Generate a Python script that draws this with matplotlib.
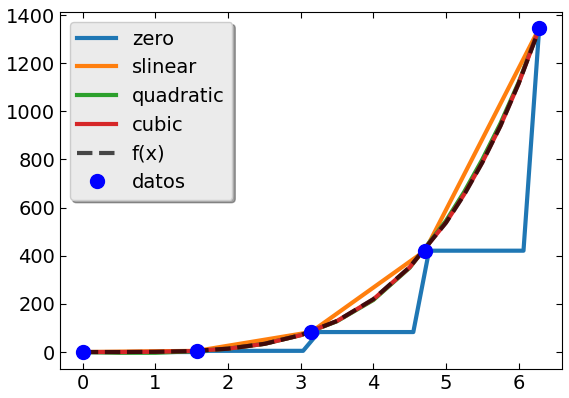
import matplotlib
matplotlib.use('Agg')
from matplotlib import pyplot as plt

# puntos de datos
x_datos = [0.0, 1.571, 3.142, 4.712, 6.283]
y_datos = [0, 5, 83, 421, 1345]

# interpolacion de orden cero (vertices)
x_zero = [0.0, 1.517, 1.733, 3.033, 3.250, 4.550, 4.767, 6.067, 6.283]
y_zero = [0, 0, 5, 5, 83, 83, 421, 421, 1345]

# curvas suaves
x_curva = [0.0, 0.5, 1.0, 1.5, 2.0, 2.5, 3.0, 3.5, 4.0, 4.5, 5.0, 5.25, 5.5, 5.75, 6.0, 6.283]
y_quad = [0, -3, -3, 3, 14, 34, 70, 128, 216, 350, 545, 665, 800, 950, 1120, 1345]
y_cubic = [0, 0, 1, 4, 14, 34, 70, 129, 219, 352, 538, 655, 788, 940, 1115, 1345]
y_f = [0, 0, 1, 4, 14, 34, 70, 129, 220, 353, 537, 653, 787, 939, 1115, 1341]

plt.rcParams['font.size'] = 14

fig = plt.figure(figsize=(5.69, 3.98), dpi=100)
ax = fig.add_axes([0.1054, 0.0729, 0.8823, 0.8969])

ax.plot(x_zero, y_zero, color='tab:blue', lw=3, label='zero')
ax.plot(x_datos, y_datos, color='tab:orange', lw=3, label='slinear')
ax.plot(x_curva, y_quad, color='tab:green', lw=3, label='quadratic')
ax.plot(x_curva, y_cubic, color='tab:red', lw=3, label='cubic')
ax.plot(x_curva, y_f, 'k--', lw=3, alpha=0.7, label='f(x)')
ax.plot(x_datos, y_datos, 'o', color='blue', ms=10, label='datos')

ax.tick_params(direction='in', top=True, right=True, labelsize=14, length=4)
ax.set_yticks([0, 200, 400, 600, 800, 1000, 1200, 1400])

leg = ax.legend(loc='upper left', fontsize=14, shadow=True, fancybox=True,
                facecolor='#ebebeb', framealpha=1, edgecolor='0.8')

plt.savefig('out.png', dpi=100)
